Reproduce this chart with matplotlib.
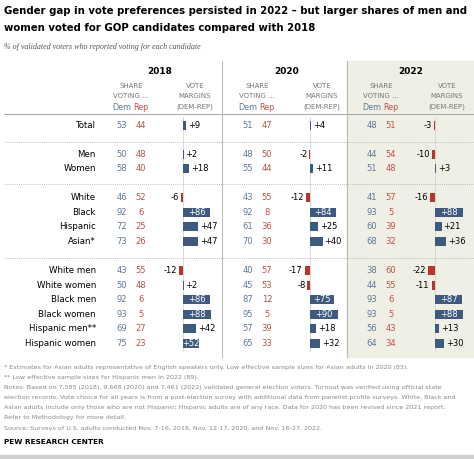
import matplotlib
matplotlib.use('Agg')
import matplotlib.pyplot as plt
from matplotlib.patches import Rectangle

groups = ['Total', 'Men', 'Women', 'White', 'Black', 'Hispanic', 'Asian*',
          'White men', 'White women', 'Black men', 'Black women',
          'Hispanic men**', 'Hispanic women']
years = ['2018', '2020', '2022']
dem = {'2018': [53, 50, 58, 46, 92, 72, 73, 43, 50, 92, 93, 69, 75],
       '2020': [51, 48, 55, 43, 92, 61, 70, 40, 45, 87, 95, 57, 65],
       '2022': [48, 44, 51, 41, 93, 60, 68, 38, 44, 93, 93, 56, 64]}
rep = {'2018': [44, 48, 40, 52, 6, 25, 26, 55, 48, 6, 5, 27, 23],
       '2020': [47, 50, 44, 55, 8, 36, 30, 57, 53, 12, 5, 39, 33],
       '2022': [51, 54, 48, 57, 5, 39, 32, 60, 55, 6, 5, 43, 34]}
margin = {'2018': [9, 2, 18, -6, 86, 47, 47, -12, 2, 86, 88, 42, 52],
          '2020': [4, -2, 11, -12, 84, 25, 40, -17, -8, 75, 90, 18, 32],
          '2022': [-3, -10, 3, -16, 88, 21, 36, -22, -11, 87, 88, 13, 30]}

notes = [
    "* Estimates for Asian adults representative of English speakers only. Low effective sample sizes for Asian adults in 2020 (83).",
    "** Low effective sample sizes for Hispanic men in 2022 (89).",
    "Notes: Based on 7,585 (2018), 9,668 (2020) and 7,461 (2022) validated general election voters. Turnout was verified using official state",
    "election records. Vote choice for all years is from a post-election survey with additional data from panelist profile surveys. White, Black and",
    "Asian adults include only those who are not Hispanic; Hispanic adults are of any race. Data for 2020 has been revised since 2021 report.",
    "Refer to Methodology for more detail.",
    "Source: Surveys of U.S. adults conducted Nov. 7-16, 2018, Nov. 12-17, 2020, and Nov. 16-27, 2022.",
]

row_y = [126, 155, 169, 198, 213, 227, 242, 271, 286, 300, 315, 329, 344]
blue, red, grey = '#3f5a7f', '#b8352c', '#777777'
blue_t, red_t = '#5f7896', '#c0504a'

fig = plt.figure(figsize=(4.74, 4.60), dpi=100)
ax = fig.add_axes([0, 0, 1, 1])
ax.set_xlim(0, 474)
ax.set_ylim(460, 0)
ax.axis('off')

ax.add_patch(Rectangle((347, 62), 127, 296, color='#efefe6', zorder=0))
ax.add_patch(Rectangle((0, 456), 474, 4, color='#d0d0d0', zorder=0))

ax.text(4, 11, "Gender gap in vote preferences persisted in 2022 \u2013 but larger shares of men and",
        fontsize=7.3, fontweight='bold', va='center')
ax.text(4, 28, "women voted for GOP candidates compared with 2018",
        fontsize=7.3, fontweight='bold', va='center')
ax.text(4, 47, "% of validated voters who reported voting for each candidate",
        fontsize=5.8, style='italic', color='#555555', va='center', family='Liberation Serif')

dem_x = [122, 248, 372]
zero_x = [183, 310, 435]
scale = 0.315
for i, yr in enumerate(years):
    ax.text((dem_x[i] + zero_x[i] + 25) / 2 - 5, 71, yr, fontsize=6.5, fontweight='bold', ha='center', va='center')
    sx = dem_x[i] + 9
    ax.text(sx, 86, "SHARE", fontsize=5, color=grey, ha='center', va='center')
    ax.text(sx, 96, "VOTING ...", fontsize=5, color=grey, ha='center', va='center')
    ax.text(dem_x[i], 107, "Dem", fontsize=5.8, color=blue_t, ha='center', va='center')
    ax.text(dem_x[i] + 19, 107, "Rep", fontsize=5.8, color=red_t, ha='center', va='center')
    mx = zero_x[i] + 12
    ax.text(mx, 86, "VOTE", fontsize=5, color=grey, ha='center', va='center')
    ax.text(mx, 96, "MARGINS", fontsize=5, color=grey, ha='center', va='center')
    ax.text(mx, 107, "(DEM-REP)", fontsize=5, color=grey, ha='center', va='center')
    for j, y in enumerate(row_y):
        ax.text(dem_x[i], y, str(dem[yr][j]), fontsize=6, color=blue_t, ha='center', va='center')
        ax.text(dem_x[i] + 19, y, str(rep[yr][j]), fontsize=6, color=red_t, ha='center', va='center')
        m = margin[yr][j]
        w = m * scale
        ax.add_patch(Rectangle((zero_x[i], y - 4.5), w, 9, color=blue if m > 0 else red, lw=0))
        lab = f"+{m}" if m > 0 else str(m)
        if m >= 50:
            ax.text(zero_x[i] + w / 2, y, lab, fontsize=6, color='white', ha='center', va='center')
        elif m > 0:
            ax.text(zero_x[i] + w + 2, y, lab, fontsize=6, ha='left', va='center')
        else:
            ax.text(zero_x[i] + w - 2, y, lab, fontsize=6, ha='right', va='center')
    ax.plot([zero_x[i], zero_x[i]], [118, 352], color='#cccccc', lw=0.5, zorder=0)

for j, y in enumerate(row_y):
    ax.text(96, y, groups[j], fontsize=6.2, ha='right', va='center')

ax.plot([4, 474], [115, 115], color='#999999', lw=0.6)
for y in [143, 185, 259]:
    ax.plot([4, 474], [y, y], color='#aaaaaa', lw=0.6, ls=(0, (1, 1.5)))
for x in [222, 347]:
    ax.plot([x, x], [62, 358], color='#bbbbbb', lw=0.8)

for k, line in enumerate(notes):
    y = 368 + k * 10 + (1 if k == 6 else 0)
    ax.text(4, y, line, fontsize=4.6, color='#888888', va='center')
ax.text(4, 442, "PEW RESEARCH CENTER", fontsize=5.3, fontweight='bold', va='center')

fig.savefig('out.png', dpi=100)
